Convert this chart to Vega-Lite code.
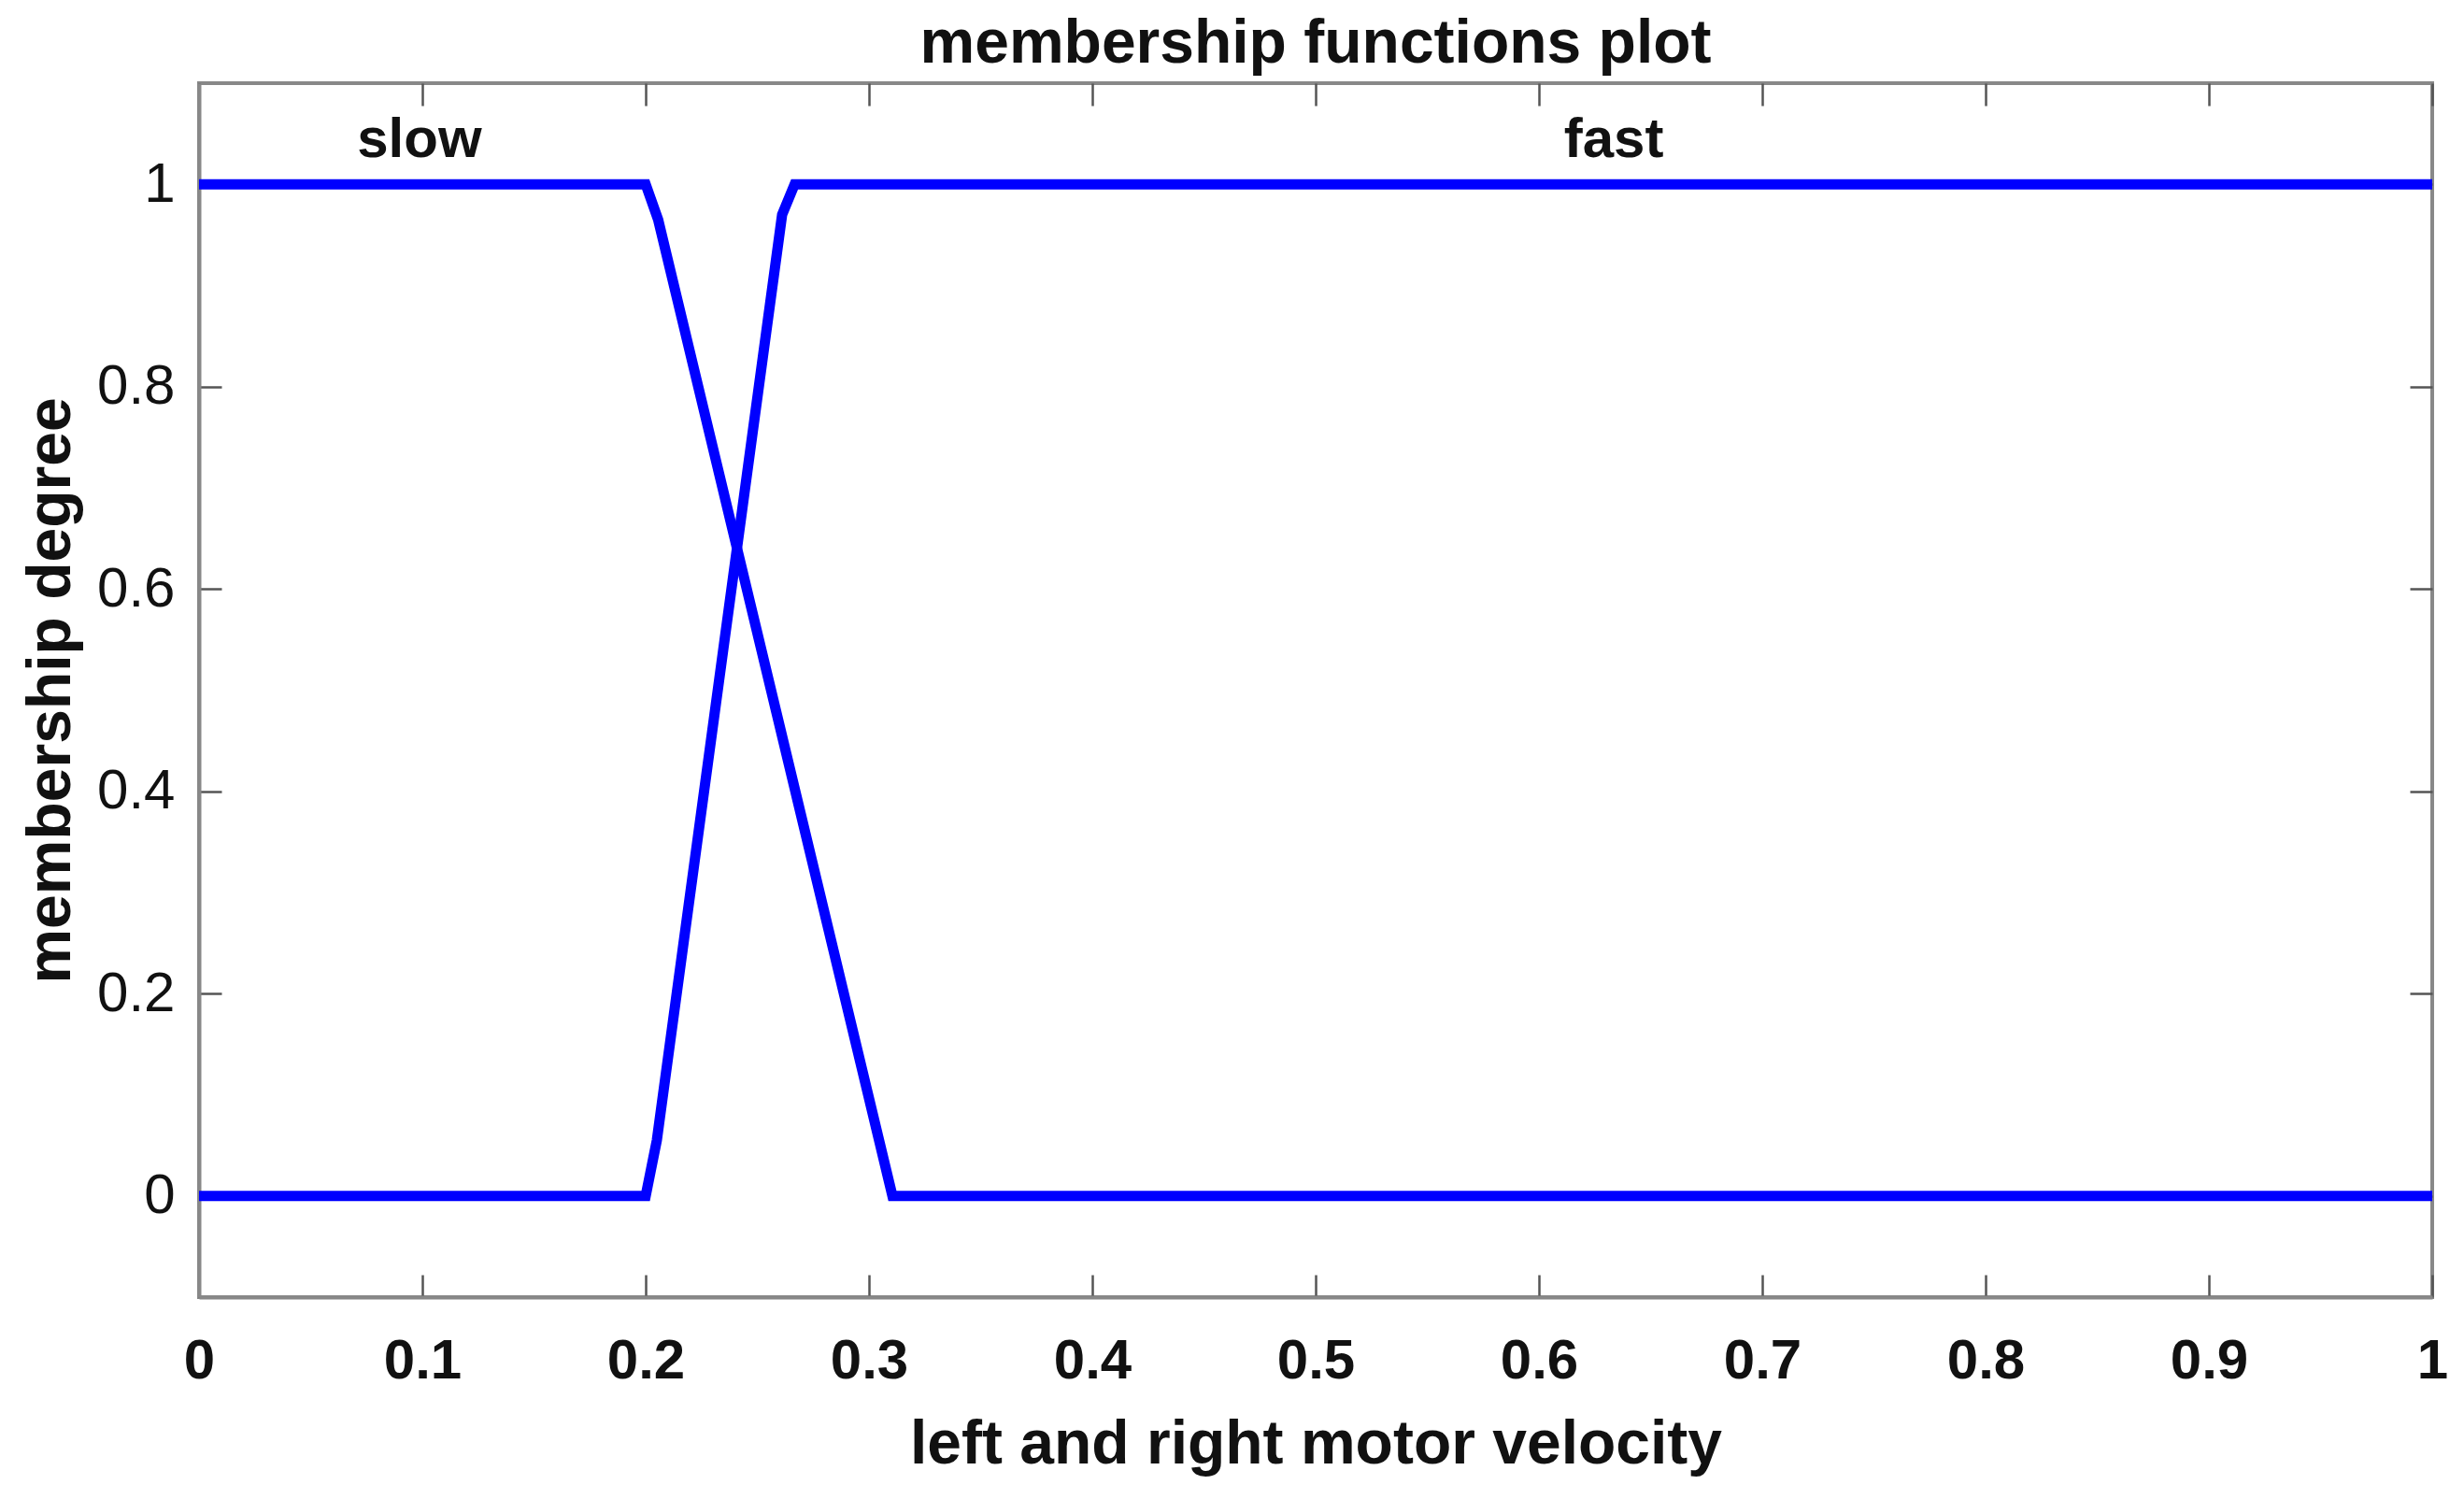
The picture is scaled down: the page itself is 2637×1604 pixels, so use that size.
{
  "$schema": "https://vega.github.io/schema/vega-lite/v6.json",
  "width": 2390,
  "height": 1299,
  "autosize": "none",
  "padding": {"left": 213, "top": 89, "right": 34, "bottom": 216},
  "background": "white",
  "config": {
    "view": {"stroke": "#888888", "strokeWidth": 4},
    "axis": {
      "grid": false,
      "domainColor": "#888888",
      "domainWidth": 4,
      "tickColor": "#555555",
      "tickWidth": 2.5,
      "tickSize": -24,
      "labelFont": "Liberation Sans",
      "labelColor": "#111111",
      "labelFontSize": 60,
      "titleFont": "Liberation Sans",
      "titleFontSize": 66,
      "titleFontWeight": "bold",
      "titleColor": "#111111"
    }
  },
  "title": {
    "text": "membership functions plot",
    "font": "Liberation Sans",
    "fontSize": 66,
    "fontWeight": "bold",
    "color": "#111111",
    "anchor": "middle",
    "baseline": "alphabetic",
    "offset": -45
  },
  "datasets": {
    "mf": [
      {"mf": "slow", "x": 0, "y": 1},
      {"mf": "slow", "x": 0.2, "y": 1},
      {"mf": "slow", "x": 0.2056, "y": 0.965},
      {"mf": "slow", "x": 0.3105, "y": 0},
      {"mf": "slow", "x": 1, "y": 0},
      {"mf": "fast", "x": 0, "y": 0},
      {"mf": "fast", "x": 0.2, "y": 0},
      {"mf": "fast", "x": 0.2050, "y": 0.055},
      {"mf": "fast", "x": 0.2611, "y": 0.97},
      {"mf": "fast", "x": 0.2667, "y": 1},
      {"mf": "fast", "x": 1, "y": 1}
    ],
    "labels": [
      {"label": "slow", "x": 0.0987, "y": 1.027},
      {"label": "fast", "x": 0.6335, "y": 1.027}
    ]
  },
  "layer": [
    {
      "data": {"name": "mf"},
      "mark": {"type": "line", "color": "#0000ff", "strokeWidth": 11, "clip": true, "strokeJoin": "miter"},
      "encoding": {
        "x": {
          "field": "x", "type": "quantitative",
          "scale": {"domain": [0, 1], "nice": false, "zero": false},
          "axis": {
            "orient": "bottom",
            "values": [0, 0.1, 0.2, 0.3, 0.4, 0.5, 0.6, 0.7, 0.8, 0.9, 1],
            "format": "~g",
            "labelFontWeight": "bold",
            "labelPadding": 63,
            "labelFlush": false,
            "labelOverlap": false,
            "title": "left and right motor velocity",
            "titleBaseline": "alphabetic",
            "titleY": 177
          }
        },
        "y": {
          "field": "y", "type": "quantitative",
          "scale": {"domain": [-0.1, 1.1], "nice": false, "zero": false},
          "axis": {
            "orient": "left",
            "values": [0, 0.2, 0.4, 0.6, 0.8, 1],
            "format": "~g",
            "labelFontWeight": "normal",
            "labelPadding": 50,
            "labelFlush": false,
            "labelOverlap": false,
            "title": "membership degree",
            "titleBaseline": "middle",
            "titleX": -159
          }
        },
        "detail": {"field": "mf", "type": "nominal"}
      }
    },
    {
      "data": {"name": "labels"},
      "mark": {"type": "text", "font": "Liberation Sans", "fontSize": 60, "fontWeight": "bold", "color": "#111111", "align": "center", "baseline": "alphabetic"},
      "encoding": {
        "x": {
          "field": "x", "type": "quantitative",
          "scale": {"domain": [0, 1], "nice": false, "zero": false},
          "axis": {
            "orient": "top",
            "values": [0, 0.1, 0.2, 0.3, 0.4, 0.5, 0.6, 0.7, 0.8, 0.9, 1],
            "labels": false,
            "domain": false,
            "title": null
          }
        },
        "y": {
          "field": "y", "type": "quantitative",
          "scale": {"domain": [-0.1, 1.1], "nice": false, "zero": false},
          "axis": {
            "orient": "right",
            "values": [0, 0.2, 0.4, 0.6, 0.8, 1],
            "labels": false,
            "domain": false,
            "title": null
          }
        },
        "text": {"field": "label", "type": "nominal"}
      }
    }
  ],
  "resolve": {"axis": {"x": "independent", "y": "independent"}}
}
